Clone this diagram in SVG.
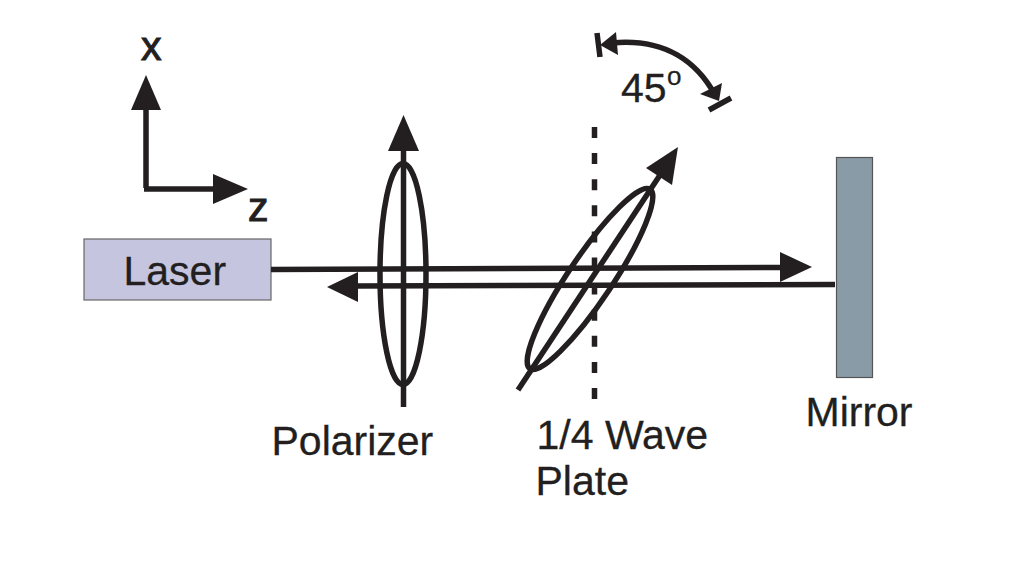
<svg xmlns="http://www.w3.org/2000/svg" width="1024" height="576" viewBox="0 0 1024 576">
<style>
text{font-family:"Liberation Sans",Arial,sans-serif;font-size:41px;fill:#231f20;stroke:#231f20;stroke-width:.3}
.l{fill:none;stroke:#231f20;stroke-width:5.500}
.h{fill:#231f20;stroke:none}
</style>
<rect width="1024" height="576" fill="#fff"/>
<g id="laser"><rect x="84" y="239" width="187" height="61" fill="#c5c5e0" stroke="#666" stroke-width="1.2"/><text x="123.500" y="285">Laser</text></g>
<g id="mirror"><rect x="836.500" y="157.500" width="36" height="220" fill="#8a9ba8" stroke="#555" stroke-width="1.2"/><text x="805.500" y="426">Mirror</text></g>
<g id="axes">
<text x="141" y="60" style="stroke-width:1">x</text><text x="248" y="221" style="stroke-width:1">z</text>
</g>
<g id="polarizer"><ellipse cx="403" cy="274" rx="23" ry="110.500" class="l"/><text x="271.500" y="455">Polarizer</text></g>
<g id="waveplate"><ellipse cx="590" cy="279" rx="22" ry="108" transform="rotate(33.800 590 279)" class="l"/><text x="536.500" y="449">1/4 Wave</text><text x="535.500" y="495">Plate</text></g>
<g id="angle"><text x="621" y="102">45</text><text x="667" y="85" style="font-size:26px">o</text></g>
<g id="connectors">
<path class="l" d="M146 188V105M144 189H218"/>
<polygon class="h" points="146,75 161,110 131,110"/>
<polygon class="h" points="248,189 213,204 213,174"/>
<path class="l" d="M271 269.500L785 267.500M835 284.500L355 286"/>
<polygon class="h" points="812,267 780,252 780,282"/>
<polygon class="h" points="327,287 358,272 358,302"/>
<path class="l" d="M403.500 407V145"/>
<polygon class="h" points="403.500,115 419,151 388,151"/>
<path class="l" d="M594.500 127V399" stroke-dasharray="11 15.100"/>
<path class="l" d="M518 390L662 172"/>
<polygon class="h" points="678,147 672,185 646,168"/>
<path class="l" d="M597 33L600 57M709 110L731 98M612 43C665 38 697 62 715 95"/>
<polygon class="h" points="600,45 616,32 618,55"/>
<polygon class="h" points="719,101 700,94 722,83"/>
</g>
</svg>
